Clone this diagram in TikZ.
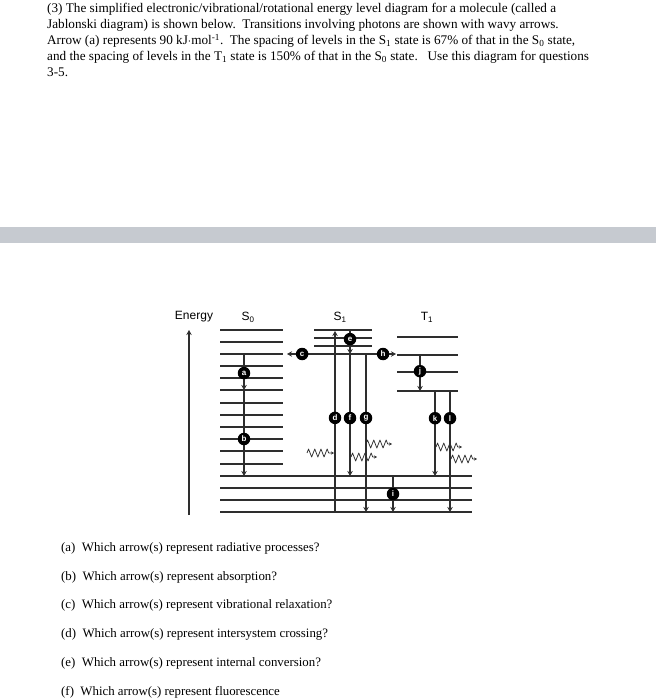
\documentclass[tikz,border=0pt]{standalone}
\usepackage{fontspec}
\setmainfont{Liberation Serif}
\setsansfont{Liberation Sans}
\usepackage{xcolor}
\usepackage{tikz}
\usetikzlibrary{arrows.meta,decorations.pathmorphing}
\definecolor{bandgray}{HTML}{C6CAD0}
\definecolor{inkgray}{HTML}{2E2E2E}

\begin{document}
\begin{tikzpicture}[
    x=1pt, y=-1pt,
    level/.style={draw=inkgray, line width=1.1pt},
    arrow/.style={-{Stealth[length=5pt,width=5.5pt]}, draw=inkgray, line width=1.1pt},
    wavy/.style={-{Stealth[length=3pt,width=3pt]}, draw=inkgray, line width=0.75pt, line join=round,
        decorate, decoration={zigzag, segment length=6.2pt, amplitude=4pt, post length=3pt}},
    tag/.style={circle, fill=black, text=white, inner sep=0pt, minimum size=12.5pt, font=\sffamily\bfseries\fontsize{8}{8}\selectfont},
    head/.style={font=\sffamily\fontsize{12}{14}\selectfont},
    para/.style={anchor=north west, align=left, inner sep=0pt, font=\fontsize{13.2}{16}\selectfont},
    ask/.style={anchor=base west, inner sep=0pt, font=\fontsize{12.85}{15}\selectfont}
]
\useasboundingbox (0,0) rectangle (656,700);
\node[para] (intro) at (47,3.2) {(3) The simplified electronic/vibrational/rotational energy level diagram for a molecule (called a\\
Jablonski diagram) is shown below.\ \ Transitions involving photons are shown with wavy arrows.\\
Arrow (a) represents 90 kJ$\cdot$mol\textsuperscript{-1}.\ \ The spacing of levels in the S\textsubscript{1} state is 67\% of that in the S\textsubscript{0} state,\\
and the spacing of levels in the T\textsubscript{1} state is 150\% of that in the S\textsubscript{0} state.\ \ \ Use this diagram for questions\\
3-5.};
\fill[bandgray] (0,227) rectangle (656,243);

\node[head] (energy) at (194,317) {Energy};
\node[head] (szero) at (248,317) {S\textsubscript{0}};
\node[head] (sone) at (340,317) {S\textsubscript{1}};
\node[head] (tone) at (427,317) {T\textsubscript{1}};

% levels
\draw[level] (220,330) -- (283,330) (220,342) -- (283,342) (220,354) -- (283,354) (220,366) -- (283,366)
    (220,378) -- (283,378) (220,390) -- (283,390) (220,403) -- (283,403) (220,415) -- (283,415)
    (220,427) -- (283,427) (220,439) -- (283,439) (220,451) -- (283,451) (220,464) -- (283,464);
\draw[level] (220,476) -- (472,476) (220,488) -- (472,488) (220,500) -- (472,500) (220,512) -- (472,512);
\draw[level] (314,330) -- (372,330) (314,338) -- (372,338) (314,346) -- (372,346) (314,354) -- (372,354);
\draw[level] (397,337) -- (458,337) (397,355) -- (458,355) (397,372) -- (458,372) (397,391) -- (458,391);

\coordinate (ebot) at (189,515);
\coordinate (etop) at (189,330);
\draw[arrow] (ebot) -- (etop);

\coordinate (atop) at (244,354);
\coordinate (abot) at (244,390);
\coordinate (bbot) at (244,476);
\coordinate (cright) at (314,354);
\coordinate (cleft) at (287,354);
\coordinate (dbot) at (335,512);
\coordinate (dtop) at (335,331);
\coordinate (etran) at (350,330);
\coordinate (fstart) at (350,354);
\coordinate (fbot) at (350,476);
\coordinate (gstart) at (366,354);
\coordinate (gbot) at (366,512);
\coordinate (hleft) at (372,354);
\coordinate (hright) at (396,354);
\coordinate (itop) at (393,476);
\coordinate (ibot) at (393,512);
\coordinate (jtop) at (420,355);
\coordinate (jbot) at (420,391);
\coordinate (ktop) at (435,391);
\coordinate (kbot) at (435,476);
\coordinate (ltop) at (450,391);
\coordinate (lbot) at (450,512);

\draw[arrow] (atop) -- node[tag, pos=0.53] (a) {a} (abot);
\draw[arrow] (abot) -- node[tag, pos=0.57] (b) {b} (bbot);
\draw[arrow] (cright) -- node[tag, pos=0.44] (c) {c} (cleft);
\draw[arrow] (dbot) -- node[tag, pos=0.52] (d) {d} (dtop);
\draw[arrow] (etran) -- node[tag, pos=0.38] (e) {e} (fstart);
\draw[arrow] (fstart) -- node[tag, pos=0.525] (f) {f} (fbot);
\draw[arrow] (gstart) -- node[tag, pos=0.405] (g) {g} (gbot);
\draw[arrow] (hleft) -- node[tag, pos=0.46] (h) {h} (hright);
\draw[arrow] (itop) -- node[tag, pos=0.5] (i) {i} (ibot);
\draw[arrow] (jtop) -- node[tag, pos=0.45] (j) {j} (jbot);
\draw[arrow] (ktop) -- node[tag, pos=0.32] (k) {k} (kbot);
\draw[arrow] (ltop) -- node[tag, pos=0.225] (l) {l} (lbot);

% photons
\coordinate (wone) at (307,453);
\coordinate (woneend) at (334,453);
\coordinate (wtwo) at (351,457);
\coordinate (wtwoend) at (377,457);
\coordinate (wthree) at (366,444);
\coordinate (wthreeend) at (392,444);
\coordinate (wfour) at (436,447);
\coordinate (wfourend) at (462,447);
\coordinate (wfive) at (451,459);
\coordinate (wfiveend) at (477,459);
\draw[wavy] (wone) -- (woneend);
\draw[wavy] (wtwo) -- (wtwoend);
\draw[wavy] (wthree) -- (wthreeend);
\draw[wavy] (wfour) -- (wfourend);
\draw[wavy] (wfive) -- (wfiveend);

\node[ask] (qa) at (61,551) {(a)\ \ Which arrow(s) represent radiative processes?};
\node[ask] (qb) at (61,580) {(b)\ \ Which arrow(s) represent absorption?};
\node[ask] (qc) at (61,608) {(c)\ \ Which arrow(s) represent vibrational relaxation?};
\node[ask] (qd) at (61,637) {(d)\ \ Which arrow(s) represent intersystem crossing?};
\node[ask] (qe) at (61,666) {(e)\ \ Which arrow(s) represent internal conversion?};
\node[ask] (qf) at (61,695) {(f)\ \ Which arrow(s) represent fluorescence};
\end{tikzpicture}
\end{document}
